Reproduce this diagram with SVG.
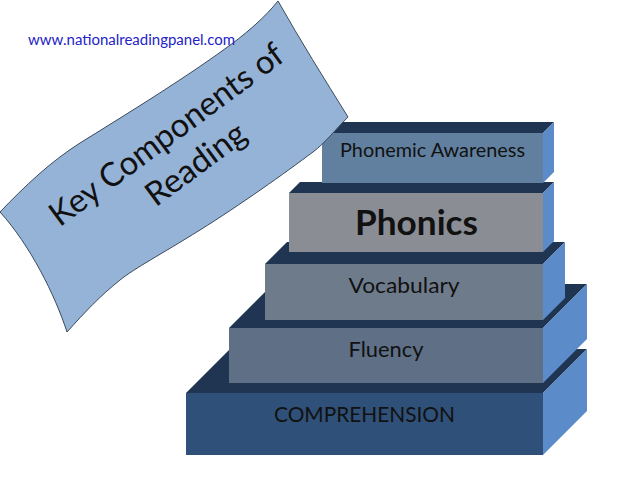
<svg xmlns="http://www.w3.org/2000/svg" width="638" height="478" viewBox="0 0 638 478">
<style>
.top{fill:#1f3552}
.side{fill:#5b8cc9}
.lbl{font-family:Lato,"Open Sans",sans-serif;fill:#111;text-anchor:middle}
.ban{font-family:Lato,"Open Sans",sans-serif;fill:#111;text-anchor:middle;font-size:33px}
</style>
<rect width="638" height="478" fill="#ffffff"/>
<g id="comprehension">
<polygon class="top" points="186,393 230,349 587,349 543,393"/>
<polygon class="side" points="543,393 587,349 587,411 543,455"/>
<rect x="186" y="393" width="357" height="62" fill="#2f5078"/>
<text class="lbl" x="364.5" y="422" font-size="22" textLength="181" lengthAdjust="spacingAndGlyphs">COMPREHENSION</text>
</g>
<g id="fluency">
<polygon class="top" points="229,328 273,284 587,284 543,328"/>
<polygon class="side" points="543,328 587,284 587,339 543,383"/>
<rect x="229" y="328" width="314" height="55" fill="#5e6f86"/>
<text class="lbl" x="386" y="357" font-size="22" textLength="75" lengthAdjust="spacingAndGlyphs">Fluency</text>
</g>
<g id="vocabulary">
<polygon class="top" points="265,264 287,242 565,242 543,264"/>
<polygon class="side" points="543,264 565,242 565,298 543,320"/>
<rect x="265" y="264" width="278" height="56" fill="#6e7b8b"/>
<text class="lbl" x="404" y="293" font-size="22" textLength="111" lengthAdjust="spacingAndGlyphs">Vocabulary</text>
</g>
<g id="phonics">
<polygon class="top" points="289,193 300,182 554,182 543,193"/>
<polygon class="side" points="543,193 554,182 554,241 543,252"/>
<rect x="289" y="193" width="254" height="59" fill="#8a8d94"/>
<text class="lbl" x="416.5" y="235" font-size="35" font-weight="bold" textLength="123" lengthAdjust="spacingAndGlyphs">Phonics</text>
</g>
<g id="phonemic-awareness">
<polygon class="top" points="322,133 333,122 554,122 543,133"/>
<polygon class="side" points="543,133 554,122 554,172 543,183"/>
<rect x="322" y="133" width="221" height="50" fill="#61809f"/>
<text class="lbl" x="432.5" y="157" font-size="19.5" textLength="185" lengthAdjust="spacingAndGlyphs">Phonemic Awareness</text>
</g>
<g id="banner">
<path d="M0,212 C25,186 50,162 80,143 C130,112 190,75 233,43 C250,30 265,17 278,1 C300,40 325,80 348,117 C335,130 325,143 313,152 C285,173 240,205 200,230 C160,255 135,268 120,280 C100,296 85,312 67,332 C55,295 30,245 0,212 Z" fill="#95b3d7" stroke="#3b4a5c" stroke-width="1"/>
<g transform="translate(166,134) rotate(-36.5)">
<text class="ban" x="0" y="12" textLength="282" lengthAdjust="spacingAndGlyphs">Key Components of</text>
<text class="ban" x="6" y="53" textLength="116" lengthAdjust="spacingAndGlyphs">Reading</text>
</g>
</g>
<g id="url">
<text x="28" y="45" font-family="Lato,'Open Sans',sans-serif" font-size="14.5" fill="#2323c8" textLength="207" lengthAdjust="spacingAndGlyphs">www.nationalreadingpanel.com</text>
</g>
</svg>
